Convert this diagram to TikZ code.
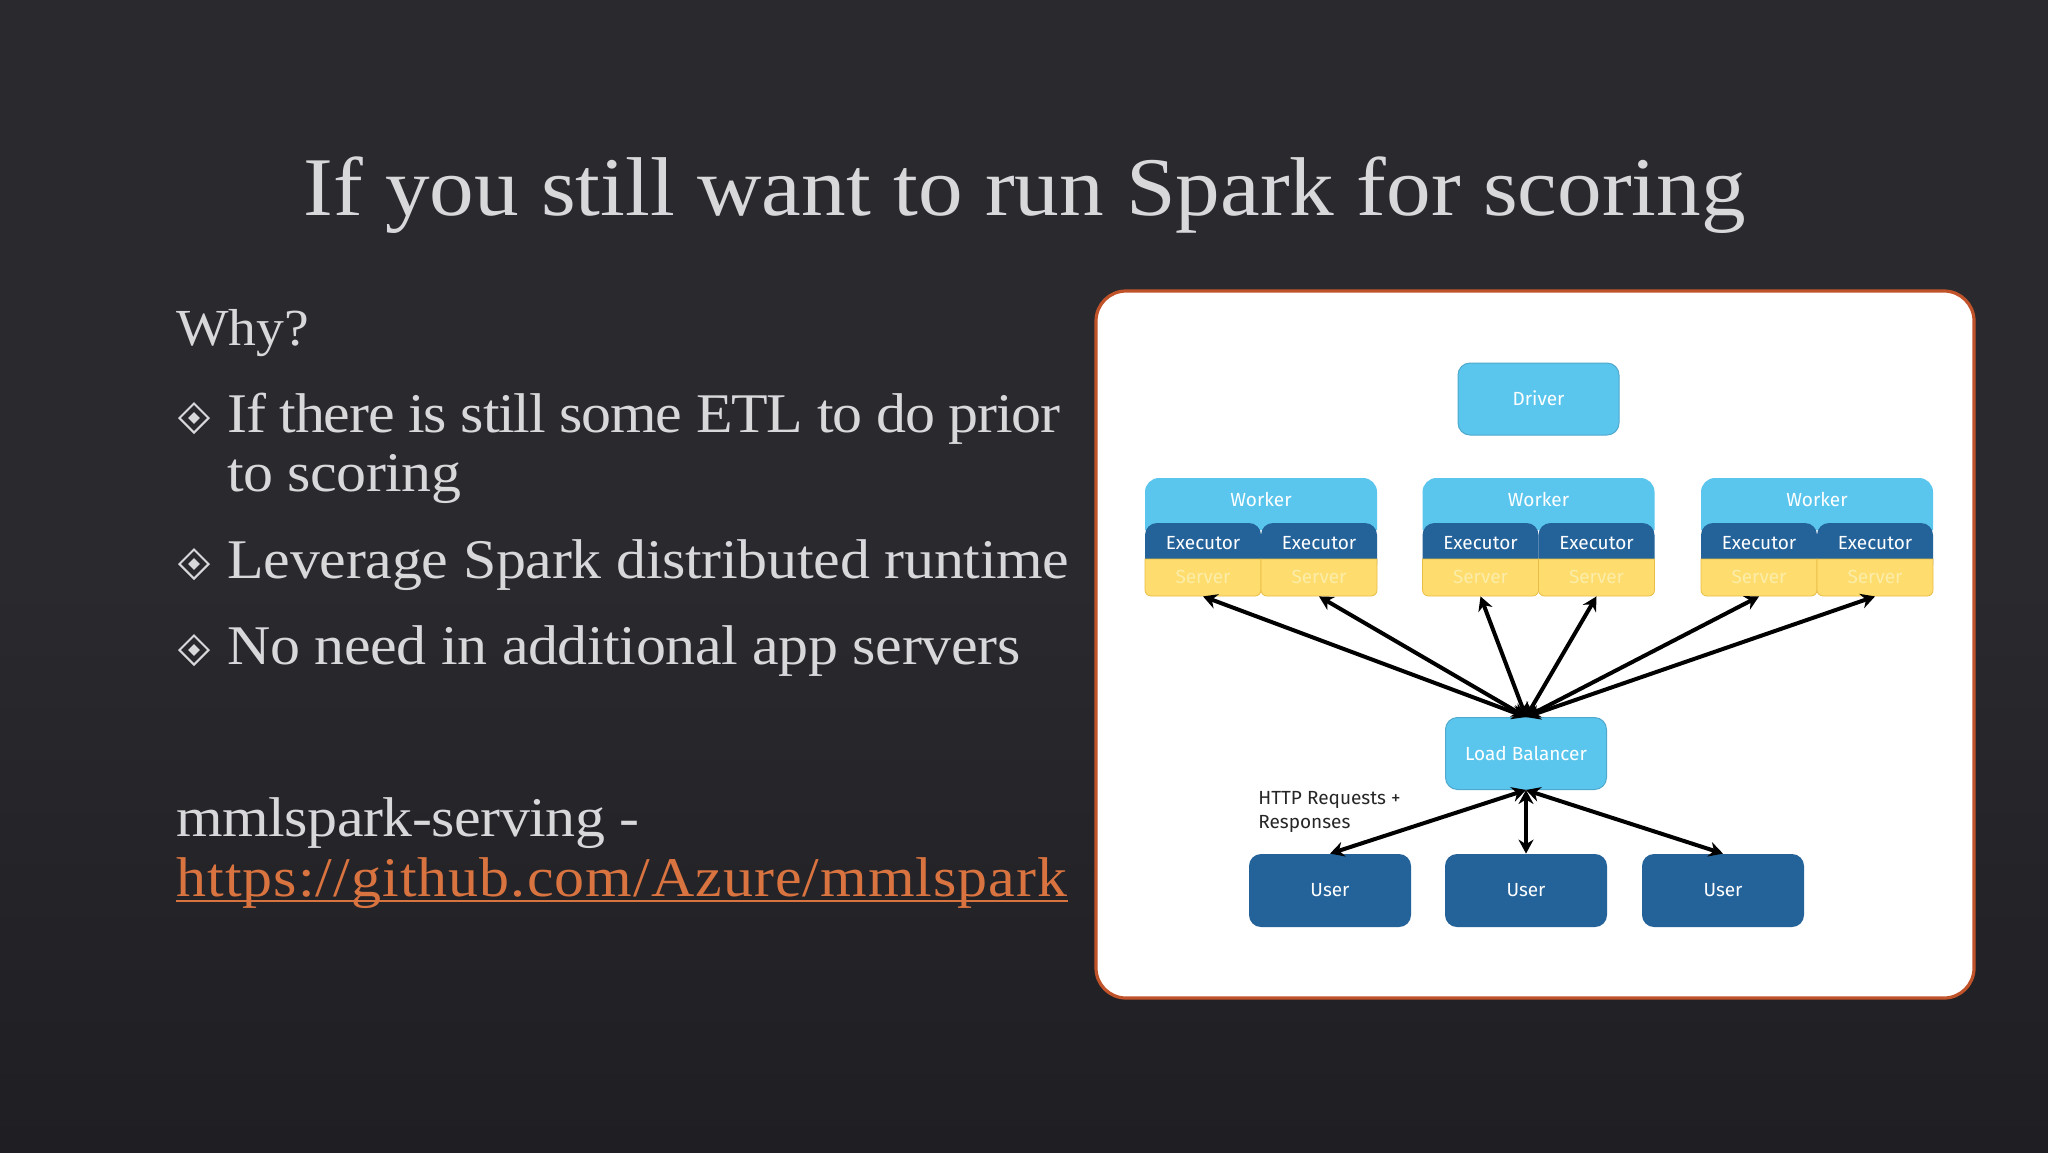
\documentclass[tikz,border=0pt]{standalone}
\usepackage{fontspec}
\usetikzlibrary{arrows.meta,shapes.geometric}
\setmainfont{Liberation Serif}
\newfontfamily\bodyfont[FakeStretch=1.07]{Liberation Serif}
\newfontfamily\diafont{Fira Sans}
\definecolor{bgtop}{HTML}{2A2A2E}
\definecolor{bgbot}{HTML}{1F1F23}
\definecolor{txt}{HTML}{D8D8DB}
\definecolor{linkc}{HTML}{D9733F}
\definecolor{panelline}{HTML}{C1532B}
\definecolor{sky}{HTML}{5AC6EE}
\definecolor{skyline}{HTML}{4FA9CC}
\definecolor{navy}{HTML}{24629A}
\definecolor{sun}{HTML}{FFDC6E}
\definecolor{sunline}{HTML}{E8BE45}
\definecolor{suntext}{HTML}{FBEDA8}
\newcommand{\linkul}[1]{\setbox0\hbox{#1}\rlap{\rule[-3pt]{\wd0}{1.1pt}}\box0}
\newcommand{\fsz}[1]{\fontsize{#1}{#1}\selectfont}
\newcommand{\lsp}[1]{\addfontfeature{LetterSpace=#1}}
\tikzset{
  title/.style={anchor=base west,inner sep=0pt,text=txt,font=\bodyfont\fsz{41.7}},
  body/.style={anchor=base west,inner sep=0pt,text=txt,font=\bodyfont\fsz{28}},
  bulout/.style={diamond,draw=txt,line width=1pt,minimum size=15pt,inner sep=0pt},
  bulin/.style={diamond,fill=txt,draw=none,minimum size=6pt,inner sep=0pt},
  box/.style={rectangle,rounded corners=6pt,inner sep=0pt,text=white,font=\diafont\fsz{9.5}},
  lab/.style={inner sep=0pt,text=white,font=\diafont\fsz{9.5}},
  srv/.style={inner sep=0pt,text=suntext,font=\diafont\fsz{9.5},minimum width=58pt,minimum height=19pt},
  link/.style={line width=2pt,black,{Stealth[length=7pt,width=7.5pt]}-{Stealth[length=7pt,width=7.5pt]}}
}
\newcommand{\workerbox}[2]{%
  \pgfmathsetmacro{\xa}{#2}\pgfmathsetmacro{\xm}{#2+116}\pgfmathsetmacro{\xb}{#2+232}
  \pgfmathsetmacro{\xc}{#2+58}\pgfmathsetmacro{\xd}{#2+174}
  \fill[sky] (\xa,530) [rounded corners=7pt] -- (\xa,478) -- (\xb,478) [sharp corners] -- (\xb,530) -- cycle;
  \fill[navy] (\xa,565) [rounded corners=6pt] -- (\xa,523) -- (\xm,523) [sharp corners] -- (\xm,565) -- cycle;
  \fill[navy] (\xm,565) [rounded corners=6pt] -- (\xm,523) -- (\xb,523) [sharp corners] -- (\xb,565) -- cycle;
  \filldraw[fill=sun,draw=sunline,line width=.4pt] (\xa,559) [rounded corners=3pt] -- (\xa,596) -- (\xm,596) [sharp corners] -- (\xm,559) -- cycle;
  \filldraw[fill=sun,draw=sunline,line width=.4pt] (\xm,559) [rounded corners=3pt] -- (\xm,596) -- (\xb,596) [sharp corners] -- (\xb,559) -- cycle;
  \node[lab] (w#1) at (\xm,499) {Worker};
  \node[lab] (e#1a) at (\xc,543.5) {Executor};
  \node[lab] (e#1b) at (\xd,543.5) {Executor};
  \node[srv] (s#1a) at (\xc,577) {Server};
  \node[srv] (s#1b) at (\xd,577) {Server};
}
\begin{document}
\begin{tikzpicture}[x=0.5pt,y=-0.5pt]
\useasboundingbox (0,0) rectangle (2048,1152);
\shade[top color=bgtop,bottom color=bgbot,middle color=bgtop] (0,0) rectangle (2048,1152);
\node[title] (ttl) at (303,215) {If you still want to run Spark for scoring};
\node[body] (why) at (176,345) {\fsz{26}Why?};
\node[bulout] (b1) at (194,418) {};
\node[bulin] (b1i) at (194,418) {};
\node[body] (l1) at (227,432) {\lsp{-2.2}If there is still some ETL to do prior};
\node[body] (l1b) at (227,491) {\lsp{-1.0}to scoring};
\node[bulout] (b2) at (194,564) {};
\node[bulin] (b2i) at (194,564) {};
\node[body] (l2) at (227,578) {\lsp{-0.5}Leverage Spark distributed runtime};
\node[bulout] (b3) at (194,650) {};
\node[bulin] (b3i) at (194,650) {};
\node[body] (l3) at (227,664) {\lsp{-0.72}No need in additional app servers};
\node[body] (m1) at (176,836) {\lsp{-0.85}mmlspark-serving -};
\node[body,text=linkc] (m2) at (176,896) {\lsp{1.9}\linkul{https://github.com/Azure/mmlspark}};
\draw[panelline,fill=white,line width=1.6pt,rounded corners=15pt] (1096,291) rectangle (1974,998);
\node[box,fill=sky,draw=skyline,line width=.5pt,minimum width=80.5pt,minimum height=36pt] (drv) at (1538.5,399) {\raisebox{.5pt}{Driver}};
\workerbox{1}{1145}
\workerbox{2}{1422.5}
\workerbox{3}{1701}
\node[box,fill=sky,draw=skyline,line width=.5pt,minimum width=80.5pt,minimum height=36pt] (lb) at (1526,753.5) {\raisebox{.5pt}{Load Balancer}};
\node[box,fill=navy,minimum width=81pt,minimum height=36.5pt] (u1) at (1330,890.5) {User};
\node[box,fill=navy,minimum width=81pt,minimum height=36.5pt] (u2) at (1526,890.5) {User};
\node[box,fill=navy,minimum width=81pt,minimum height=36.5pt] (u3) at (1723,890.5) {User};
\node[anchor=north west,inner sep=0pt,align=left,text=black!85,font=\diafont\fsz{9.5}] (http) at (1258,791) {HTTP Requests +\\[2.5pt]Responses};
\draw[link] (lb.north) -- (s1a.south);
\draw[link] (lb.north) -- (s1b.south);
\draw[link] (lb.north) -- (s2a.south);
\draw[link] (lb.north) -- (s2b.south);
\draw[link] (lb.north) -- (s3a.south);
\draw[link] (lb.north) -- (s3b.south);
\draw[link] (lb.south) -- (u1.north);
\draw[link] (lb.south) -- (u2.north);
\draw[link] (lb.south) -- (u3.north);
\end{tikzpicture}
\end{document}
